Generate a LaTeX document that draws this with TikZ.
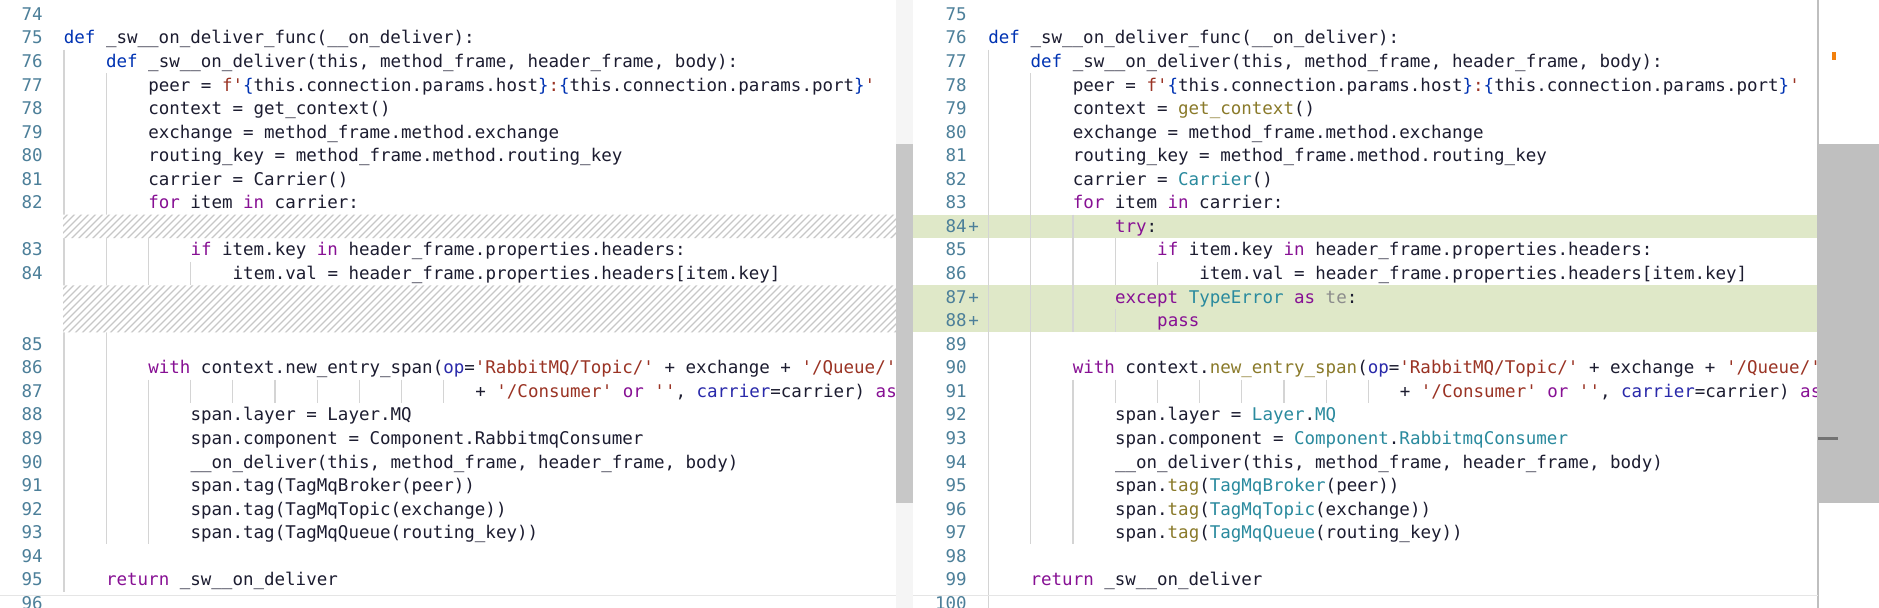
\documentclass[tikz,border=0pt]{standalone}
\usepackage{fontspec}
\newfontfamily\code{DejaVu Sans Mono}
\definecolor{txt}{HTML}{1C1C30}
\definecolor{kwc}{HTML}{871094}
\definecolor{dfc}{HTML}{0033B3}
\definecolor{stc}{HTML}{9A3324}
\definecolor{clc}{HTML}{2A8A9E}
\definecolor{fnc}{HTML}{8A7A2A}
\definecolor{numc}{HTML}{4C7F99}
\definecolor{grn}{HTML}{DFE8C8}
\definecolor{guide}{HTML}{D4D4D4}
\newcommand\q{\char39\relax}
\newcommand\K[1]{\textcolor{kwc}{#1}}
\newcommand\D[1]{\textcolor{dfc}{#1}}
\newcommand\St[1]{\textcolor{stc}{#1}}
\newcommand\Cl[1]{\textcolor{clc}{#1}}
\newcommand\Fn[1]{\textcolor{fnc}{#1}}
\newcommand\Br[1]{\textcolor{dfc}{#1}}
\newcommand\Kw[1]{\textcolor{dfc!70!kwc}{#1}}
\newcommand\cl[5]{\node[cd] (#1) at ({#2+#3*10.55},{20.4+#4*23.56}) {#5};}
\newcommand\nm[4]{\node[ln] (#1) at (#2,{20.4+#3*23.56}) {#4};}
\newcommand\gd[4]{\draw[guide] ({#1+#2*10.55+0.5},{2.6+#3*23.56}) -- ({#1+#2*10.55+0.5},{2.6+(#4+1)*23.56});}
\tikzset{
 cd/.style={anchor=base west,inner sep=0,font=\code\fontsize{8.75pt}{10pt}\selectfont,text=txt},
 ln/.style={anchor=base east,inner sep=0,font=\code\fontsize{8.75pt}{10pt}\selectfont,text=numc},
 guide/.style={draw=guide,line width=0.6pt},
 hatch/.style={draw=black!22,line width=0.7pt}
}
\begin{document}
\begin{tikzpicture}[x=0.5pt,y=-0.5pt]
\useasboundingbox (0,0) rectangle (1879,608);
\fill[white] (0,0) rectangle (1879,608);
% green rows right
\foreach \r in {9,12,13}{\fill[grn] (913,{2.6+\r*23.56}) rectangle (1818,{2.6+(\r+1)*23.56});}
% guides left
\def\xa{63.5}
\gd{\xa}{0}{2}{24}
\gd{\xa}{4}{3}{22}
\gd{\xa}{8}{10}{11}
\gd{\xa}{12}{11}{11}
\gd{\xa}{8}{16}{22}
\foreach \c in {12,16,...,36}{\gd{\xa}{\c}{16}{16}}
% guides right
\def\xb{988}
\gd{\xb}{0}{2}{25}
\gd{\xb}{4}{3}{22}
\gd{\xb}{8}{9}{13}
\gd{\xb}{12}{10}{11}
\gd{\xb}{12}{13}{13}
\gd{\xb}{16}{11}{11}
\gd{\xb}{8}{16}{22}
\foreach \c in {12,16,...,36}{\gd{\xb}{\c}{16}{16}}
% hatch left
\begin{scope}
\clip (63,214.6) rectangle (896,238.2) (63,285.3) rectangle (896,332.4);
\fill[white] (63,214.6) rectangle (896,238.2) (63,285.3) rectangle (896,332.4);
\foreach \i in {0,7,...,1050}{\draw[hatch] ({-100+\i},340) -- ({-100+\i+140},200);}
\end{scope}
% left code
\begin{scope}
\clip (0,0) rectangle (896,608);
\nm{a74}{43}{0}{74}
\nm{a75}{43}{1}{75}\cl{la75}{\xa}{0}{1}{\D{def} \_sw\_\_on\_deliver\_func(\_\_on\_deliver):}
\nm{a76}{43}{2}{76}\cl{la76}{\xa}{4}{2}{\D{def} \_sw\_\_on\_deliver(this, method\_frame, header\_frame, body):}
\nm{a77}{43}{3}{77}\cl{la77}{\xa}{8}{3}{peer = \St{f\q}\Br{\{}this.connection.params.host\Br{\}}\St{:}\Br{\{}this.connection.params.port\Br{\}}\St{\q}}
\nm{a78}{43}{4}{78}\cl{la78}{\xa}{8}{4}{context = get\_context()}
\nm{a79}{43}{5}{79}\cl{la79}{\xa}{8}{5}{exchange = method\_frame.method.exchange}
\nm{a80}{43}{6}{80}\cl{la80}{\xa}{8}{6}{routing\_key = method\_frame.method.routing\_key}
\nm{a81}{43}{7}{81}\cl{la81}{\xa}{8}{7}{carrier = Carrier()}
\nm{a82}{43}{8}{82}\cl{la82}{\xa}{8}{8}{\K{for} item \K{in} carrier:}
\nm{a83}{43}{10}{83}\cl{la83}{\xa}{12}{10}{\K{if} item.key \K{in} header\_frame.properties.headers:}
\nm{a84}{43}{11}{84}\cl{la84}{\xa}{16}{11}{item.val = header\_frame.properties.headers[item.key]}
\nm{a85}{43}{14}{85}
\nm{a86}{43}{15}{86}\cl{la86}{\xa}{8}{15}{\K{with} context.new\_entry\_span(\Kw{op}=\St{\q RabbitMQ/Topic/\q} + exchange + \St{\q/Queue/\q} + routing\_key}
\nm{a87}{43}{16}{87}\cl{la87}{\xa}{39}{16}{+ \St{\q/Consumer\q} \K{or} \St{\q\q}, \Kw{carrier}=carrier) \K{as} span:}
\nm{a88}{43}{17}{88}\cl{la88}{\xa}{12}{17}{span.layer = Layer.MQ}
\nm{a89}{43}{18}{89}\cl{la89}{\xa}{12}{18}{span.component = Component.RabbitmqConsumer}
\nm{a90}{43}{19}{90}\cl{la90}{\xa}{12}{19}{\_\_on\_deliver(this, method\_frame, header\_frame, body)}
\nm{a91}{43}{20}{91}\cl{la91}{\xa}{12}{20}{span.tag(TagMqBroker(peer))}
\nm{a92}{43}{21}{92}\cl{la92}{\xa}{12}{21}{span.tag(TagMqTopic(exchange))}
\nm{a93}{43}{22}{93}\cl{la93}{\xa}{12}{22}{span.tag(TagMqQueue(routing\_key))}
\nm{a94}{43}{23}{94}
\nm{a95}{43}{24}{95}\cl{la95}{\xa}{4}{24}{\K{return} \_sw\_\_on\_deliver}
\nm{a96}{43}{25}{96}
\end{scope}
% right code
\begin{scope}
\clip (913,0) rectangle (1818,608);
\nm{b75}{967}{0}{75}
\nm{b76}{967}{1}{76}\cl{lb76}{\xb}{0}{1}{\D{def} \_sw\_\_on\_deliver\_func(\_\_on\_deliver):}
\nm{b77}{967}{2}{77}\cl{lb77}{\xb}{4}{2}{\D{def} \_sw\_\_on\_deliver(this, method\_frame, header\_frame, body):}
\nm{b78}{967}{3}{78}\cl{lb78}{\xb}{8}{3}{peer = \St{f\q}\Br{\{}this.connection.params.host\Br{\}}\St{:}\Br{\{}this.connection.params.port\Br{\}}\St{\q}}
\nm{b79}{967}{4}{79}\cl{lb79}{\xb}{8}{4}{context = \Fn{get\_context}()}
\nm{b80}{967}{5}{80}\cl{lb80}{\xb}{8}{5}{exchange = method\_frame.method.exchange}
\nm{b81}{967}{6}{81}\cl{lb81}{\xb}{8}{6}{routing\_key = method\_frame.method.routing\_key}
\nm{b82}{967}{7}{82}\cl{lb82}{\xb}{8}{7}{carrier = \Cl{Carrier}()}
\nm{b83}{967}{8}{83}\cl{lb83}{\xb}{8}{8}{\K{for} item \K{in} carrier:}
\nm{b84}{967}{9}{84}\cl{lb84}{\xb}{12}{9}{\K{try}:}
\nm{b85}{967}{10}{85}\cl{lb85}{\xb}{16}{10}{\K{if} item.key \K{in} header\_frame.properties.headers:}
\nm{b86}{967}{11}{86}\cl{lb86}{\xb}{20}{11}{item.val = header\_frame.properties.headers[item.key]}
\nm{b87}{967}{12}{87}\cl{lb87}{\xb}{12}{12}{\K{except} \Cl{TypeError} \K{as} \textcolor{black!45}{te}:}
\nm{b88}{967}{13}{88}\cl{lb88}{\xb}{16}{13}{\K{pass}}
\nm{b89}{967}{14}{89}
\nm{b90}{967}{15}{90}\cl{lb90}{\xb}{8}{15}{\K{with} context.\Fn{new\_entry\_span}(\Kw{op}=\St{\q RabbitMQ/Topic/\q} + exchange + \St{\q/Queue/\q} + routing\_key}
\nm{b91}{967}{16}{91}\cl{lb91}{\xb}{39}{16}{+ \St{\q/Consumer\q} \K{or} \St{\q\q}, \Kw{carrier}=carrier) \K{as} span:}
\nm{b92}{967}{17}{92}\cl{lb92}{\xb}{12}{17}{span.layer = \Cl{Layer}.\Cl{MQ}}
\nm{b93}{967}{18}{93}\cl{lb93}{\xb}{12}{18}{span.component = \Cl{Component}.\Cl{RabbitmqConsumer}}
\nm{b94}{967}{19}{94}\cl{lb94}{\xb}{12}{19}{\_\_on\_deliver(this, method\_frame, header\_frame, body)}
\nm{b95}{967}{20}{95}\cl{lb95}{\xb}{12}{20}{span.\Fn{tag}(\Cl{TagMqBroker}(peer))}
\nm{b96}{967}{21}{96}\cl{lb96}{\xb}{12}{21}{span.\Fn{tag}(\Cl{TagMqTopic}(exchange))}
\nm{b97}{967}{22}{97}\cl{lb97}{\xb}{12}{22}{span.\Fn{tag}(\Cl{TagMqQueue}(routing\_key))}
\nm{b98}{967}{23}{98}
\nm{b99}{967}{24}{99}\cl{lb99}{\xb}{4}{24}{\K{return} \_sw\_\_on\_deliver}
\nm{b100}{967}{25}{100}
\foreach \r in {9,12,13}{\node[ln,anchor=base west,text=numc] at (968,{20.4+\r*23.56}) {+};}
\end{scope}
% scrollbars and borders
\fill[black!22] (896,144) rectangle (913,503);
\fill[black!4] (896,0) rectangle (913,144);
\fill[black!4] (896,503) rectangle (913,608);
\draw[black!25,line width=0.6pt] (1818,0) -- (1818,608);
\fill[black!25] (1818,144) rectangle (1879,503);
\fill[black!55] (1818,437) rectangle (1838,440);
\fill[orange!80!brown] (1832,52) rectangle (1836,60);
\draw[black!10] (913,595) -- (1818,595);
\draw[black!10] (0,595) -- (896,595);
\end{tikzpicture}
\end{document}
